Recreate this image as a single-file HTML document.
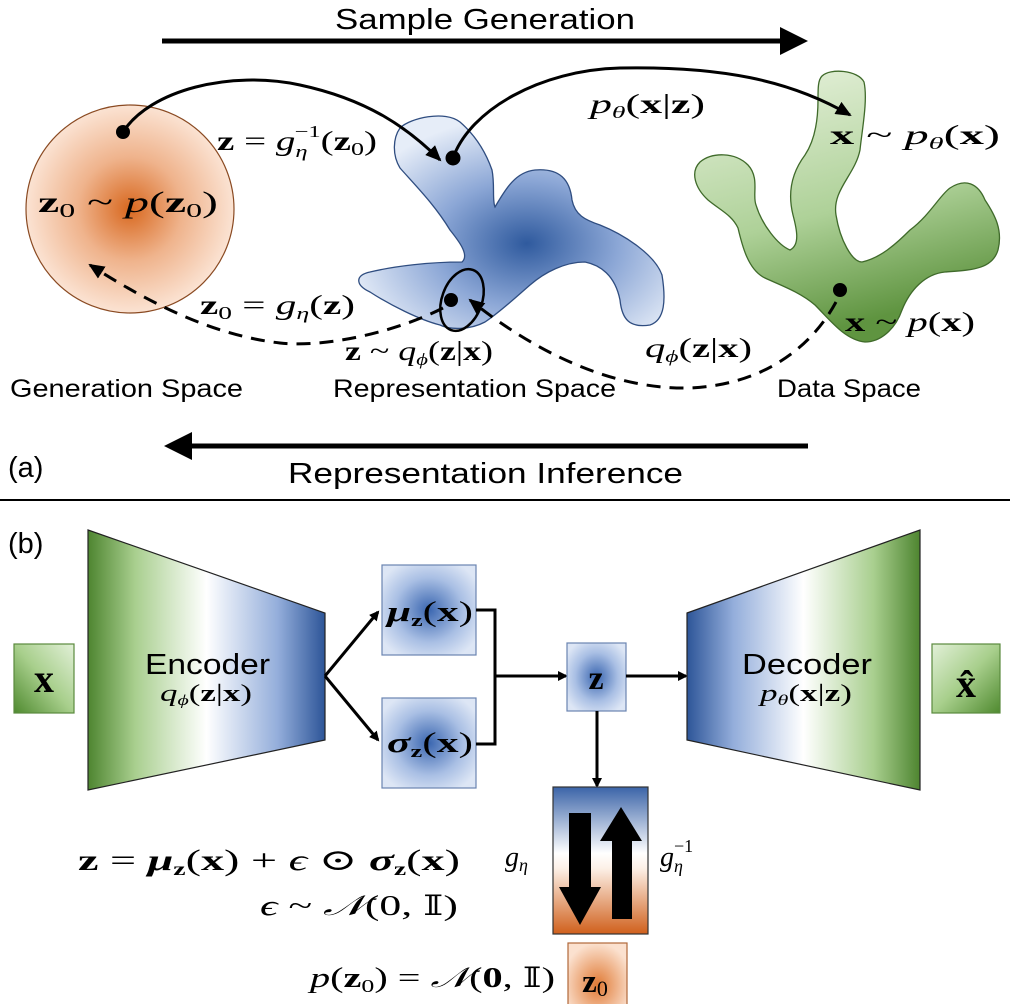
<!DOCTYPE html>
<html><head><meta charset="utf-8"><style>
html,body{margin:0;padding:0;background:#fff;}
svg{display:block;}
.s{font-family:"Liberation Sans","DejaVu Sans",sans-serif;}
.m{font-family:"Liberation Serif","DejaVu Serif",serif;}
</style></head><body>
<svg width="1010" height="1004" viewBox="0 0 1010 1004" xmlns="http://www.w3.org/2000/svg">
<defs>
<radialGradient id="or" cx="0.5" cy="0.5" r="0.5"><stop offset="0" stop-color="#d8681f"/><stop offset="0.5" stop-color="#efb38c"/><stop offset="1" stop-color="#fbe3d3"/></radialGradient>
<radialGradient id="bl" cx="0.55" cy="0.6" r="0.6"><stop offset="0" stop-color="#2f5a9e"/><stop offset="0.5" stop-color="#8ca7d6"/><stop offset="1" stop-color="#e6edf8"/></radialGradient>
<radialGradient id="bl2" cx="0.5" cy="0.5" r="0.6"><stop offset="0" stop-color="#3a66b0"/><stop offset="0.6" stop-color="#a9bfe4"/><stop offset="1" stop-color="#dde6f5"/></radialGradient>
<linearGradient id="gr" x1="0" y1="0" x2="0.3" y2="1"><stop offset="0" stop-color="#eaf3e0"/><stop offset="0.6" stop-color="#aed198"/><stop offset="1" stop-color="#5f9440"/></linearGradient>
<linearGradient id="enc" x1="0" y1="0" x2="1" y2="0"><stop offset="0" stop-color="#4e8530"/><stop offset="0.2" stop-color="#a9cf8f"/><stop offset="0.5" stop-color="#ffffff"/><stop offset="0.8" stop-color="#94aedb"/><stop offset="1" stop-color="#2d5598"/></linearGradient>
<linearGradient id="dec" x1="1" y1="0" x2="0" y2="0"><stop offset="0" stop-color="#4e8530"/><stop offset="0.2" stop-color="#a9cf8f"/><stop offset="0.5" stop-color="#ffffff"/><stop offset="0.8" stop-color="#94aedb"/><stop offset="1" stop-color="#2d5598"/></linearGradient>
<linearGradient id="gx" x1="0" y1="1" x2="1" y2="0"><stop offset="0" stop-color="#4f8a2f"/><stop offset="0.5" stop-color="#a8cf8c"/><stop offset="1" stop-color="#e2f0d8"/></linearGradient>
<linearGradient id="gb" x1="0" y1="0" x2="0" y2="1"><stop offset="0" stop-color="#3b64a8"/><stop offset="0.45" stop-color="#ffffff"/><stop offset="0.55" stop-color="#fdf1e8"/><stop offset="1" stop-color="#d0601c"/></linearGradient>
<radialGradient id="oz" cx="0.5" cy="0.6" r="0.6"><stop offset="0" stop-color="#e07a35"/><stop offset="1" stop-color="#fbe1cf"/></radialGradient>
<marker id="ah" markerWidth="10" markerHeight="10" refX="8" refY="5" orient="auto" markerUnits="userSpaceOnUse"><path d="M0,0 L10,5 L0,10 z" fill="#000"/></marker>
<marker id="ahm" markerWidth="16" markerHeight="14" refX="14" refY="7" orient="auto" markerUnits="userSpaceOnUse"><path d="M0,0 L16,7 L0,14 z" fill="#000"/></marker>
</defs>

<text x="335" y="29" class="s" font-size="29" textLength="300" lengthAdjust="spacingAndGlyphs">Sample Generation</text>
<line x1="162" y1="41" x2="790" y2="41" stroke="#000" stroke-width="5"/>
<path d="M780,27 L808,41 L780,55 z" fill="#000"/>
<line x1="808" y1="446" x2="190" y2="446" stroke="#000" stroke-width="5"/>
<path d="M192,432 L164,446 L192,460 z" fill="#000"/>
<text x="288" y="483" class="s" font-size="29" textLength="395" lengthAdjust="spacingAndGlyphs">Representation Inference</text>
<text x="8" y="477" class="s" font-size="29">(a)</text>
<line x1="0" y1="500" x2="1010" y2="500" stroke="#000" stroke-width="2"/>

<circle cx="130" cy="209" r="104" fill="url(#or)" stroke="#8a4a22" stroke-width="1.2"/>
<text x="38" y="212" class="m" font-size="30" textLength="180" lengthAdjust="spacingAndGlyphs"><tspan font-weight="bold">z</tspan><tspan font-size="20" dy="5">0</tspan><tspan dy="-5"> ~ </tspan><tspan font-style="italic">p</tspan>(<tspan font-weight="bold">z</tspan><tspan font-size="20" dy="5">0</tspan><tspan dy="-5">)</tspan></text>

<path d="M400,128 C410,118 445,110 460,122 C475,135 485,150 492,170 C495,185 492,200 495,207 C505,190 515,172 535,170 C560,168 570,180 572,200 C575,215 585,220 600,225 C625,235 655,255 662,275 C666,300 665,320 650,325 C630,328 622,320 620,300 C615,275 600,265 585,262 C565,262 545,272 530,285 C515,298 500,312 485,322 C470,330 450,330 440,325 C420,320 390,305 370,292 C355,285 355,275 370,272 C395,266 430,262 462,262 C470,255 458,240 450,230 C435,205 415,185 400,168 C392,155 393,138 400,128 z" fill="url(#bl)" stroke="#2f4d80" stroke-width="1.3"/>
<ellipse cx="462" cy="300" rx="20" ry="32" transform="rotate(20 462 300)" fill="none" stroke="#000" stroke-width="2.5"/>

<path d="M822,76 C830,68 858,70 864,82 C868,100 862,130 860,150 C855,175 832,190 836,215 C840,240 852,262 862,262 C880,258 895,245 910,230 C930,215 940,195 950,188 C965,178 978,183 985,200 C995,215 1003,230 998,250 C992,270 970,270 945,272 C925,274 910,290 902,310 C895,330 880,342 865,342 C845,340 830,320 815,305 C800,292 780,285 765,278 C748,270 742,245 738,228 C732,215 720,210 708,200 C695,188 690,172 700,162 C712,152 735,152 748,165 C760,178 752,195 756,205 C762,225 778,245 790,250 C800,245 797,230 793,215 C788,195 790,175 805,155 C815,140 818,120 818,100 C818,88 818,80 822,76 z" fill="url(#gr)" stroke="#3f6a2a" stroke-width="1.3"/>

<circle cx="123" cy="132" r="7" fill="#000"/>
<path d="M123,132 C150,90 230,70 300,85 C370,100 410,130 440,160" fill="none" stroke="#000" stroke-width="3" marker-end="url(#ahm)"/>
<circle cx="453" cy="158" r="7.5" fill="#000"/>
<path d="M453,158 C470,110 540,70 620,68 C720,66 790,80 850,115" fill="none" stroke="#000" stroke-width="3" marker-end="url(#ahm)"/>

<circle cx="451" cy="300" r="7" fill="#000"/>
<path d="M443,308 C400,330 330,348 280,343 C220,336 160,310 90,265" fill="none" stroke="#000" stroke-width="3" stroke-dasharray="14,9" marker-end="url(#ahm)"/>
<circle cx="840" cy="290" r="7" fill="#000"/>
<path d="M836,302 C810,350 760,385 690,388 C600,390 520,340 470,300" fill="none" stroke="#000" stroke-width="3" stroke-dasharray="14,9" marker-end="url(#ahm)"/>

<text x="217" y="150" class="m" font-size="27" textLength="160" lengthAdjust="spacingAndGlyphs"><tspan font-weight="bold">z</tspan> = <tspan font-style="italic">g</tspan><tspan font-size="17" font-style="italic" dy="7">η</tspan><tspan font-size="17" dx="-9" dy="-20">−1</tspan><tspan dy="13">(</tspan><tspan font-weight="bold">z</tspan><tspan font-size="18" dy="5">0</tspan><tspan dy="-5">)</tspan></text>
<text x="590" y="113" class="m" font-size="27" textLength="115" lengthAdjust="spacingAndGlyphs"><tspan font-style="italic">p</tspan><tspan font-size="17" font-style="italic" dy="5">θ</tspan><tspan dy="-5">(</tspan><tspan font-weight="bold">x</tspan>|<tspan font-weight="bold">z</tspan>)</text>
<text x="830" y="144" class="m" font-size="27" textLength="170" lengthAdjust="spacingAndGlyphs"><tspan font-weight="bold">x</tspan> ~ <tspan font-style="italic">p</tspan><tspan font-size="17" font-style="italic" dy="5">θ</tspan><tspan dy="-5">(</tspan><tspan font-weight="bold">x</tspan>)</text>
<text x="845" y="331" class="m" font-size="27" textLength="130" lengthAdjust="spacingAndGlyphs"><tspan font-weight="bold">x</tspan> ~ <tspan font-style="italic">p</tspan>(<tspan font-weight="bold">x</tspan>)</text>
<text x="200" y="314" class="m" font-size="27" textLength="155" lengthAdjust="spacingAndGlyphs"><tspan font-weight="bold">z</tspan><tspan font-size="18" dy="5">0</tspan><tspan dy="-5"> = </tspan><tspan font-style="italic">g</tspan><tspan font-size="17" font-style="italic" dy="5">η</tspan><tspan dy="-5">(</tspan><tspan font-weight="bold">z</tspan>)</text>
<text x="345" y="360" class="m" font-size="27" textLength="148" lengthAdjust="spacingAndGlyphs"><tspan font-weight="bold">z</tspan> ~ <tspan font-style="italic">q</tspan><tspan font-size="17" font-style="italic" dy="5">ϕ</tspan><tspan dy="-5">(</tspan><tspan font-weight="bold">z</tspan>|<tspan font-weight="bold">x</tspan>)</text>
<text x="645" y="357" class="m" font-size="27" textLength="107" lengthAdjust="spacingAndGlyphs"><tspan font-style="italic">q</tspan><tspan font-size="17" font-style="italic" dy="5">ϕ</tspan><tspan dy="-5">(</tspan><tspan font-weight="bold">z</tspan>|<tspan font-weight="bold">x</tspan>)</text>
<text x="10" y="397" class="s" font-size="25" textLength="233" lengthAdjust="spacingAndGlyphs">Generation Space</text>
<text x="333" y="397" class="s" font-size="25" textLength="283" lengthAdjust="spacingAndGlyphs">Representation Space</text>
<text x="777" y="397" class="s" font-size="25" textLength="144" lengthAdjust="spacingAndGlyphs">Data Space</text>

<text x="8" y="553" class="s" font-size="29">(b)</text>
<rect x="14" y="644" width="60" height="69" fill="url(#gx)" stroke="#5a8a3e" stroke-width="1.2"/>
<text x="44" y="692" text-anchor="middle" class="m" font-size="40" font-weight="bold">x</text>
<path d="M88,530 L325,613 L325,740 L88,790 z" fill="url(#enc)" stroke="#222" stroke-width="1.2"/>
<text x="145" y="674" class="s" font-size="29" textLength="125" lengthAdjust="spacingAndGlyphs">Encoder</text>
<text x="160" y="701" class="m" font-size="24" textLength="92" lengthAdjust="spacingAndGlyphs"><tspan font-style="italic">q</tspan><tspan font-size="15" font-style="italic" dy="4">ϕ</tspan><tspan dy="-4">(</tspan><tspan font-weight="bold">z</tspan>|<tspan font-weight="bold">x</tspan>)</text>

<line x1="325" y1="676" x2="378" y2="612" stroke="#000" stroke-width="3" marker-end="url(#ah)"/>
<line x1="325" y1="676" x2="378" y2="740" stroke="#000" stroke-width="3" marker-end="url(#ah)"/>
<rect x="382" y="565" width="94" height="90" fill="url(#bl2)" stroke="#6a84b0" stroke-width="1.2"/>
<rect x="382" y="698" width="94" height="90" fill="url(#bl2)" stroke="#6a84b0" stroke-width="1.2"/>
<text x="387" y="621" class="m" font-size="28" textLength="86" lengthAdjust="spacingAndGlyphs"><tspan font-weight="bold" font-style="italic">μ</tspan><tspan font-size="17" font-weight="bold" dy="5">z</tspan><tspan dy="-5">(</tspan><tspan font-weight="bold">x</tspan>)</text>
<text x="387" y="752" class="m" font-size="28" textLength="86" lengthAdjust="spacingAndGlyphs"><tspan font-weight="bold" font-style="italic">σ</tspan><tspan font-size="17" font-weight="bold" dy="5">z</tspan><tspan dy="-5">(</tspan><tspan font-weight="bold">x</tspan>)</text>
<path d="M476,610 L495,610 L495,744 L476,744" fill="none" stroke="#000" stroke-width="3"/>
<line x1="495" y1="676" x2="566" y2="676" stroke="#000" stroke-width="3" marker-end="url(#ah)"/>
<rect x="567" y="643" width="59" height="68" fill="url(#bl2)" stroke="#6a84b0" stroke-width="1.2"/>
<text x="596" y="689" text-anchor="middle" class="m" font-size="34" font-weight="bold">z</text>
<line x1="626" y1="676" x2="686" y2="676" stroke="#000" stroke-width="3" marker-end="url(#ah)"/>
<line x1="597" y1="711" x2="597" y2="786" stroke="#000" stroke-width="3" marker-end="url(#ah)"/>

<path d="M687,613 L920,530 L920,790 L687,740 z" fill="url(#dec)" stroke="#222" stroke-width="1.2"/>
<text x="742" y="674" class="s" font-size="29" textLength="130" lengthAdjust="spacingAndGlyphs">Decoder</text>
<text x="760" y="701" class="m" font-size="24" textLength="92" lengthAdjust="spacingAndGlyphs"><tspan font-style="italic">p</tspan><tspan font-size="15" font-style="italic" dy="4">θ</tspan><tspan dy="-4">(</tspan><tspan font-weight="bold">x</tspan>|<tspan font-weight="bold">z</tspan>)</text>
<rect x="932" y="644" width="68" height="69" fill="url(#gx)" stroke="#5a8a3e" stroke-width="1.2" transform="scale(-1 1) translate(-1932 0)"/>
<text x="966" y="697" text-anchor="middle" class="m" font-size="40" font-weight="bold">x̂</text>

<rect x="553" y="787" width="95" height="147" fill="url(#gb)" stroke="#333" stroke-width="1.2"/>
<path d="M569,813 L591,813 L591,887 L601,887 L580,925 L559,887 L569,887 z" fill="#000"/>
<path d="M612,919 L632,919 L632,841 L642,841 L621,807 L600,841 L612,841 z" fill="#000"/>
<text x="505" y="866" class="m" font-size="28" font-style="italic">g<tspan font-size="18" dy="5">η</tspan></text>
<text x="660" y="866" class="m" font-size="28" font-style="italic">g<tspan font-size="18" dy="6">η</tspan><tspan font-size="18" font-style="normal" dx="-9" dy="-20">−1</tspan></text>

<text x="78" y="870" class="m" font-size="30" textLength="382" lengthAdjust="spacingAndGlyphs"><tspan font-weight="bold">z</tspan> = <tspan font-weight="bold" font-style="italic">μ</tspan><tspan font-size="18" font-weight="bold" dy="5">z</tspan><tspan dy="-5">(</tspan><tspan font-weight="bold">x</tspan>) + <tspan font-style="italic">ϵ</tspan> ⊙ <tspan font-weight="bold" font-style="italic">σ</tspan><tspan font-size="18" font-weight="bold" dy="5">z</tspan><tspan dy="-5">(</tspan><tspan font-weight="bold">x</tspan>)</text>
<text x="260" y="915" class="m" font-size="28" textLength="198" lengthAdjust="spacingAndGlyphs"><tspan font-style="italic">ϵ</tspan> ~ <tspan font-style="italic">𝒩</tspan>(0, 𝕀)</text>
<text x="310" y="987" class="m" font-size="28" textLength="245" lengthAdjust="spacingAndGlyphs"><tspan font-style="italic">p</tspan>(<tspan font-weight="bold">z</tspan><tspan font-size="18" dy="5">0</tspan><tspan dy="-5">) = </tspan><tspan font-style="italic">𝒩</tspan>(<tspan font-weight="bold">0</tspan>, 𝕀)</text>
<rect x="568" y="943" width="59" height="70" fill="url(#oz)" stroke="#b0683a" stroke-width="1.2"/>
<text x="595" y="992" text-anchor="middle" class="m" font-size="33"><tspan font-weight="bold">z</tspan><tspan font-size="22" dy="4">0</tspan></text>
</svg>
</body></html>
